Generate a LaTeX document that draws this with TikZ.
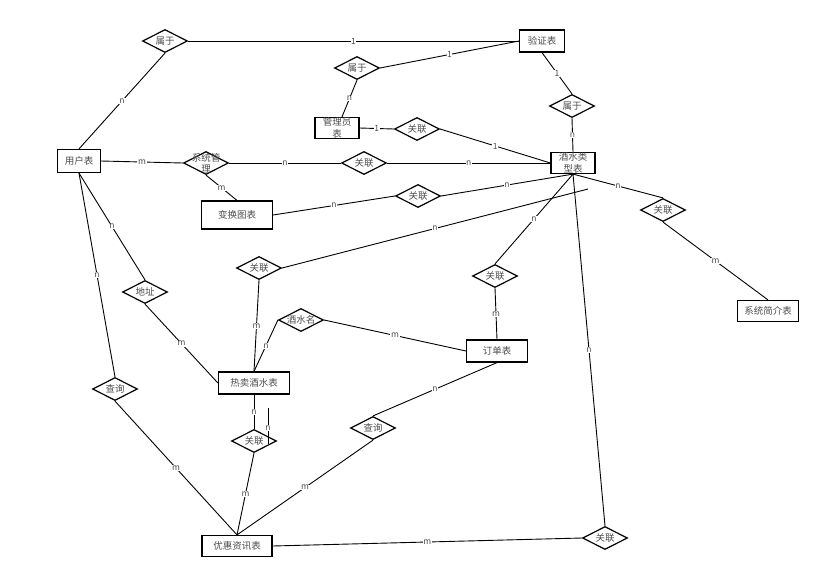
\documentclass[tikz,border=0pt]{standalone}
\usepackage{fontspec}
\newfontfamily\cjk{Noto Sans CJK SC}
\usetikzlibrary{shapes.geometric}
\tikzset{
  txt/.style={font=\cjk\fontsize{9.5}{11.5}\selectfont, text=black!70, align=center, inner sep=0pt},
  ent/.style={draw, line width=1.2pt, minimum height=22pt, inner sep=0pt, label={[txt]center:#1}},
  rel/.style={diamond, draw, line width=1.2pt, minimum width=45pt, minimum height=23pt, inner sep=0pt, label={[txt]center:#1}},
  lab/.style={midway, fill=white, inner sep=0.6pt, font=\cjk\fontsize{8.5}{9}\selectfont, text=black!70}
}
\begin{document}
\begin{tikzpicture}[x=1pt, y=-1pt, line width=0.9pt]
\useasboundingbox (0,0) rectangle (840,571);
% entities
\node[ent=用户表, minimum width=43pt, minimum height=23pt] (yhb) at (79,161) {};
\node[ent=验证表, minimum width=45pt] (yzb) at (542,41) {};
\node[ent={管理员\\表}, minimum width=44pt, minimum height=21pt] (gly) at (337,128) {};
\node[ent={酒水类\\型表}, minimum width=44pt, minimum height=21pt] (jslx) at (573,163) {};
\node[ent=变换图表, minimum width=71pt, minimum height=28pt] (bht) at (237,215) {};
\node[ent=系统简介表, minimum width=61pt, minimum height=21pt] (xtjj) at (768,311) {};
\node[ent=热卖酒水表, minimum width=71pt] (rmjs) at (254,383) {};
\node[ent=订单表, minimum width=61pt] (ddb) at (497,351) {};
\node[ent=优惠资讯表, minimum width=70pt, minimum height=21pt] (yhzx) at (237,546) {};
% relations
\node[rel=属于] (sy1) at (165,41) {};
\node[rel=属于] (sy2) at (357,68) {};
\node[rel=属于] (sy3) at (572,106) {};
\node[rel=关联] (gl1) at (417,129) {};
\node[rel={系统管\\理}] (xtgl) at (206,163) {};
\node[rel=关联] (gl2) at (364,163) {};
\node[rel=关联] (gl3) at (418,196) {};
\node[rel=关联] (gl4) at (663,210) {};
\node[rel=关联] (gl5) at (259,268) {};
\node[rel=关联] (gl6) at (495,276) {};
\node[rel=地址] (dz) at (145,292) {};
\node[rel=酒水名] (jsm) at (301,320) {};
\node[rel=查询] (cx1) at (115,389) {};
\node[rel=关联] (gl7) at (254,441) {};
\node[rel=查询] (cx2) at (373,428) {};
\node[rel=关联] (gl8) at (605,538) {};
% loose ends
\coordinate (e1) at (588,189);
\coordinate (e2) at (268,408);
\coordinate (e3) at (268,444);
% top part
\draw (yhb.north) -- node[lab] {n} (sy1.south);
\draw (sy1.east) -- node[lab] {1} (yzb.west);
\draw (sy2.east) -- node[lab] {1} (yzb.west);
\draw (sy2.south) -- node[lab] {n} ([xshift=5pt]gly.north);
\draw (yzb.south) -- node[lab] {1} (sy3.north);
\draw (sy3.south) -- node[lab] {n} (jslx.north);
\draw (gly.east) -- node[lab] {1} (gl1.west);
\draw (gl1.east) -- node[lab] {1} (jslx.west);
\draw (yhb.east) -- node[lab] {m} (xtgl.west);
\draw (xtgl.east) -- node[lab] {n} (gl2.west);
\draw (gl2.east) -- node[lab] {n} (jslx.west);
\draw (xtgl.south) -- node[lab] {m} (bht.north);
\draw (bht.east) -- node[lab] {n} (gl3.west);
\draw (gl3.east) -- node[lab] {n} (jslx.south);
\draw (jslx.south) -- node[lab] {n} (gl4.north);
\draw (gl4.south) -- node[lab] {m} (xtjj.north);
% middle part
\draw (gl5.east) -- node[lab] {n} (e1);
\draw (jslx.south) -- node[lab] {n} (gl6.north);
\draw (gl6.south) -- node[lab] {m} (ddb.north);
\draw (jslx.south) -- node[lab] {n} (gl8.north);
\draw (gl5.south) -- node[lab] {m} (rmjs.north);
\draw (jsm.west) -- node[lab] {n} (rmjs.north);
\draw (jsm.east) -- node[lab] {m} (ddb.west);
\draw (yhb.south) -- node[lab] {n} (dz.north);
\draw (dz.south) -- node[lab] {m} (rmjs.west);
\draw (yhb.south) -- node[lab] {n} (cx1.north);
% bottom part
\draw (cx1.south) -- node[lab] {m} (yhzx.north);
\draw (rmjs.south) -- node[lab] {n} (gl7.north);
\draw (e2) -- node[lab, pos=0.55] {n} (e3);
\draw (gl7.south) -- node[lab] {m} (yhzx.north);
\draw (cx2.south) -- node[lab] {m} (yhzx.north);
\draw (cx2.north) -- node[lab] {n} (ddb.south);
\draw (yhzx.east) -- node[lab] {m} (gl8.west);
\end{tikzpicture}
\end{document}
